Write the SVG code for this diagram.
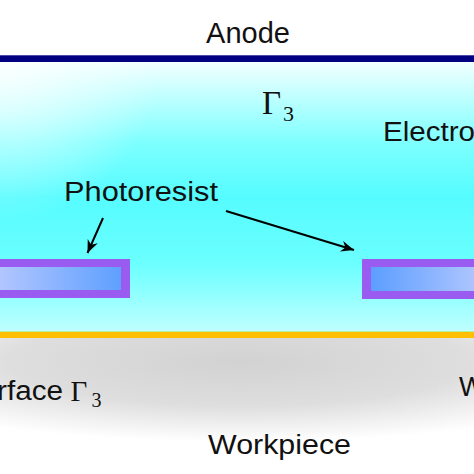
<svg xmlns="http://www.w3.org/2000/svg" width="474" height="474" viewBox="0 0 474 474">
  <defs>
    <linearGradient id="cyanV" x1="0" y1="62" x2="0" y2="332" gradientUnits="userSpaceOnUse">
      <stop offset="0" stop-color="#f2ffff"/>
      <stop offset="0.3" stop-color="#7dffff"/>
      <stop offset="0.5" stop-color="#55fcff"/>
      <stop offset="0.75" stop-color="#6cffff"/>
      <stop offset="1" stop-color="#c0ffff"/>
    </linearGradient>
    <radialGradient id="whiteTL" cx="0" cy="62" r="160" gradientUnits="userSpaceOnUse">
      <stop offset="0" stop-color="#ffffff" stop-opacity="0.8"/>
      <stop offset="1" stop-color="#ffffff" stop-opacity="0"/>
    </radialGradient>
    <radialGradient id="gray" cx="240" cy="362" r="420" gradientUnits="userSpaceOnUse" gradientTransform="translate(0 362) scale(1 0.19) translate(0 -362)">
      <stop offset="0" stop-color="#d2d2d2"/>
      <stop offset="0.55" stop-color="#dedede"/>
      <stop offset="1" stop-color="#ffffff"/>
    </radialGradient>
    <linearGradient id="prLeft" x1="0" y1="0" x2="121" y2="0" gradientUnits="userSpaceOnUse">
      <stop offset="0" stop-color="#b2c6ff"/>
      <stop offset="1" stop-color="#5ea0ff"/>
    </linearGradient>
    <linearGradient id="prRight" x1="371" y1="0" x2="474" y2="0" gradientUnits="userSpaceOnUse">
      <stop offset="0" stop-color="#5c9eff"/>
      <stop offset="1" stop-color="#adc4ff"/>
    </linearGradient>
    <marker id="arrow" markerWidth="16" markerHeight="14" viewBox="-14 -7 16 14" refX="0" refY="0" orient="auto" markerUnits="userSpaceOnUse">
      <path d="M0,0 L-13,-5.5 L-9,0 L-13,5.5 Z" fill="#000"/>
    </marker>
    <style>
      .lbl { font-family: "Liberation Sans", Arial, sans-serif; fill: #111; }
      .math { font-family: "Liberation Serif", "Times New Roman", serif; fill: #111; }
      .pr { fill: #9a5cf0; }
      .conn { stroke: #000; stroke-width: 2; fill: none; marker-end: url(#arrow); }
    </style>
  </defs>

  <rect x="0" y="0" width="474" height="474" fill="#ffffff"/>

  <g id="electrolyte">
    <rect x="0" y="62" width="474" height="270" fill="url(#cyanV)"/>
    <rect x="0" y="62" width="474" height="270" fill="url(#whiteTL)"/>
  </g>

  <g id="workpiece">
    <rect x="0" y="338" width="474" height="136" fill="url(#gray)"/>
  </g>

  <g id="anode">
    <rect x="0" y="55" width="474" height="7" fill="#000080"/>
    <rect x="0" y="55" width="474" height="1" fill="#4a4aa8"/>
    <text class="lbl" x="248" y="43" font-size="29" text-anchor="middle">Anode</text>
  </g>

  <g id="surface">
    <rect x="0" y="332" width="474" height="6" fill="#fdbf00"/>
    <rect x="0" y="331" width="474" height="1" fill="#b8f0a0"/>
  </g>

  <g id="photoresist-left">
    <rect class="pr" x="-5" y="259" width="135" height="39"/>
    <rect x="0" y="267" width="121" height="23" fill="url(#prLeft)"/>
  </g>

  <g id="photoresist-right">
    <rect class="pr" x="362" y="259" width="120" height="40"/>
    <rect x="371" y="267" width="110" height="24" fill="url(#prRight)"/>
  </g>

  <g id="labels">
    <text class="math" x="262" y="113.5" font-size="33">Γ</text>
    <text class="math" x="283" y="120.5" font-size="22">3</text>
    <text class="lbl" x="383" y="141" font-size="27" textLength="92" lengthAdjust="spacingAndGlyphs">Electro</text>
    <text class="lbl" x="64" y="201" font-size="27" textLength="154" lengthAdjust="spacingAndGlyphs">Photoresist</text>
    <text class="lbl" x="-3" y="400" font-size="27" textLength="66" lengthAdjust="spacingAndGlyphs">rface</text>
    <text class="math" x="70.5" y="401" font-size="29">Γ</text>
    <text class="math" x="91.5" y="406.5" font-size="20">3</text>
    <text class="lbl" x="459" y="396" font-size="27">W</text>
    <text class="lbl" x="208" y="454" font-size="27" textLength="143" lengthAdjust="spacingAndGlyphs">Workpiece</text>
  </g>

  <g id="connectors">
    <line class="conn" x1="103" y1="218" x2="87.5" y2="253"/>
    <line class="conn" x1="226" y1="211" x2="354" y2="250"/>
  </g>
</svg>
